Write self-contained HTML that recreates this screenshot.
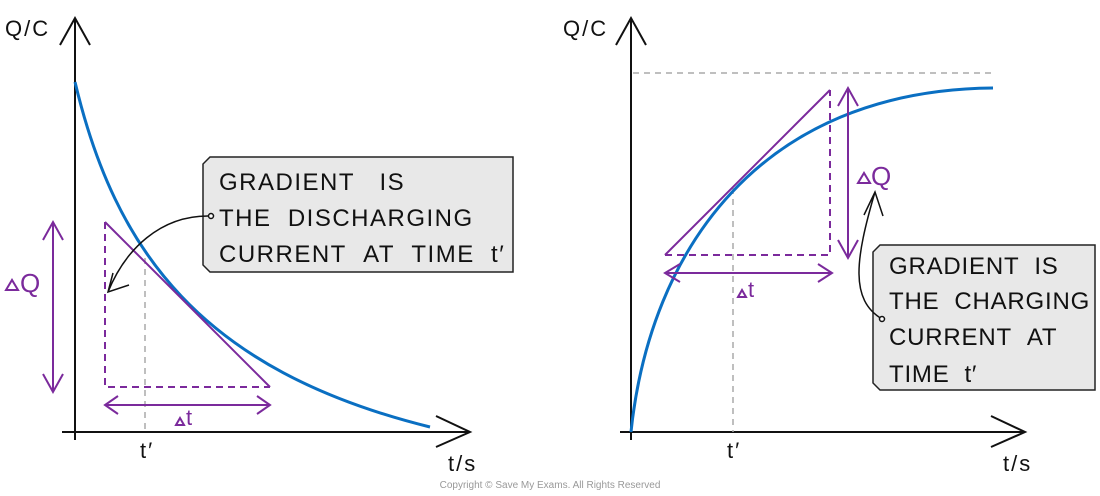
<!DOCTYPE html>
<html><head><style>body{margin:0;background:#fff}svg{display:block}text{font-family:"Liberation Sans",sans-serif}</style></head><body>
<svg width="1100" height="496" viewBox="0 0 1100 496" xmlns="http://www.w3.org/2000/svg">
<g fill="none" stroke="#111" stroke-width="2">
<path d="M75,440 V20 M60,45 L75,18 L90,45"/>
<path d="M62,432 H470 M436,416 L470,432 L436,447"/>
<path d="M631,440 V20 M616,45 L631,18 L646,45"/>
<path d="M620,432 H1025 M991,416 L1025,432 L991,447"/>
</g>
<g font-size="22" fill="#111" letter-spacing="2">
<text x="5" y="36">Q/C</text><text x="448" y="471">t/s</text>
<text x="563" y="36">Q/C</text><text x="1003" y="471">t/s</text>
<text x="140" y="458">t′</text><text x="727" y="458">t′</text>
</g>
<g stroke="#aaa" stroke-width="1.5" stroke-dasharray="6,5" fill="none">
<path d="M145,258 V430"/><path d="M733,188 V432"/><path d="M633,73 H995"/>
</g>
<g stroke="#0a6fc2" stroke-width="3" fill="none">
<path d="M75,82 C115,250 200,370 430,427"/>
<path d="M631,432 C650,250 760,90 993,88"/>
</g>
<g stroke="#7b2a9c" stroke-width="2" fill="none">
<path d="M105,222 L270,387"/>
<path d="M105,222 V387 H270" stroke-dasharray="7,5"/>
<path d="M105,405 H270 M118,396 L105,405 L118,414 M257,396 L270,405 L257,414"/>
<path d="M53,222 V392 M43,240 L53,222 L63,240 M43,374 L53,392 L63,374"/>
<path d="M665,255 L830,90"/>
<path d="M665,255 H830 V90" stroke-dasharray="7,5"/>
<path d="M665,273 H832 M680,264 L665,273 L680,282 M818,264 L832,273 L818,282"/>
<path d="M848,88 V258 M838,106 L848,88 L858,106 M838,240 L848,258 L858,240"/>
<path d="M6,290 L12,280 L18,290 Z"/>
<path d="M858,183 L864,173 L870,183 Z"/>
<path d="M176,425 L180,418 L184,425 Z"/>
<path d="M738,297 L742,290 L746,297 Z"/>
</g>
<g fill="#7b2a9c">
<text x="20" y="292" font-size="26">Q</text>
<text x="186" y="425" font-size="22">t</text>
<text x="871" y="185" font-size="26">Q</text>
<text x="748" y="297" font-size="22">t</text>
</g>
<path d="M210,157 H513 V272 H210 L203,265 V164 Z" fill="#e8e8e8" stroke="#222" stroke-width="1.5"/>
<path d="M880,245 H1095 V390 H880 L873,383 V252 Z" fill="#e8e8e8" stroke="#222" stroke-width="1.5"/>
<g font-size="24" fill="#111" letter-spacing="1.5">
<text x="219" y="190">GRADIENT&#160;&#160;&#160;IS</text>
<text x="219" y="226">THE&#160;&#160;DISCHARGING</text>
<text x="219" y="262">CURRENT&#160;&#160;AT&#160;&#160;TIME&#160;&#160;t′</text>
</g>
<g font-size="24" fill="#111" letter-spacing="0.8">
<text x="889" y="274">GRADIENT&#160;&#160;IS</text>
<text x="889" y="309">THE&#160;&#160;CHARGING</text>
<text x="889" y="345">CURRENT&#160;&#160;AT</text>
<text x="889" y="382">TIME&#160;&#160;t′</text>
</g>
<g stroke="#111" stroke-width="1.5" fill="none">
<path d="M210,216 C160,215 125,250 108,292 M113,273 L108,292 L129,285"/>
<circle cx="211" cy="216" r="2.5" fill="#fff"/>
<path d="M882,319 C850,300 855,260 875,192 M864,215 L875,192 L883,216"/>
<circle cx="882" cy="319" r="2.5" fill="#fff"/>
</g>
<text x="550" y="488" font-size="10" fill="#999" text-anchor="middle">Copyright © Save My Exams. All Rights Reserved</text>
</svg>
</body></html>
